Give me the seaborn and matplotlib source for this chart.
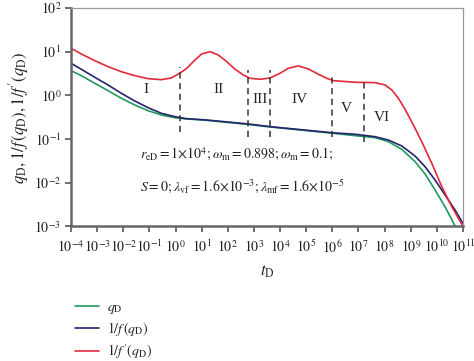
import matplotlib

matplotlib.use("Agg")

import matplotlib.pyplot as plt
import numpy as np
import pandas as pd
import seaborn as sns

# ==========================================================
# Data (log10 of t_D and of the value)
# ==========================================================

RED_LOG_T = [-4.0, -3.606, -3.093, -2.584, -2.075, -1.562, -1.053, -0.544,
             -0.162, 0.160, 0.413, 0.746, 1.002, 1.320, 1.637, 1.959, 2.276,
             2.594, 2.850, 3.233, 3.616, 3.999, 4.316, 4.699, 5.082, 5.464,
             5.786, 6.038, 6.869, 7.634, 8.017, 8.273, 8.526, 8.782, 9.100,
             9.421, 9.804, 10.187, 10.569, 11.0]
RED_LOG_Q = [1.078, 0.947, 0.794, 0.657, 0.542, 0.451, 0.382, 0.359,
             0.398, 0.506, 0.610, 0.810, 0.947, 1.0, 0.924, 0.771, 0.597,
             0.467, 0.391, 0.368, 0.398, 0.506, 0.620, 0.673, 0.604, 0.483,
             0.391, 0.336, 0.300, 0.291, 0.238, 0.124, -0.066, -0.318, -0.677,
             -1.059, -1.553, -2.088, -2.545, -3.0]

BLUE_LOG_T = [-4.0, -3.606, -3.093, -2.584, -2.075, -1.562, -1.053, -0.544,
              -0.031, 0.413, 1.128, 2.0, 2.785, 3.617, 5.977, 6.869, 7.634,
              8.143, 8.656, 9.165, 9.548, 9.930, 10.313, 10.696, 11.0]
BLUE_LOG_Q = [0.735, 0.597, 0.414, 0.238, 0.048, -0.128, -0.281, -0.410,
              -0.487, -0.533, -0.560, -0.610, -0.654, -0.716, -0.854, -0.890,
              -0.945, -1.021, -1.158, -1.387, -1.632, -1.936, -2.279, -2.622,
              -2.93]

GREEN_LOG_T = [-4.0, -3.606, -3.093, -2.584, -2.075, -1.562, -1.053, -0.544,
               -0.031, 0.413, 1.128, 2.785, 3.617, 5.977, 6.869, 7.634, 8.143,
               8.656, 9.165, 9.548, 9.930, 10.313, 10.696]
GREEN_LOG_Q = [0.565, 0.451, 0.277, 0.108, -0.066, -0.220, -0.350, -0.449,
               -0.510, -0.540, -0.568, -0.666, -0.723, -0.865, -0.922, -0.968,
               -1.059, -1.233, -1.517, -1.799, -2.165, -2.547, -2.989]

SERIES_NAMES = [r"$q_{\mathrm{D}}$",
                r"$1/f\,(q_{\mathrm{D}})$",
                r"$1/f\,'(q_{\mathrm{D}})$"]
SERIES_COLORS = ["#1f9a5c", "#25236e", "#e4283a"]

# flow-regime boundaries: log10 t_D, and log10 of dashed line ends
BOUNDARY_LOG_T = [0.171, 2.785, 3.617, 6.0, 7.21]
BOUNDARY_LOG_TOP = [0.657, 0.581, 0.581, 0.513, 0.352]
BOUNDARY_LOG_BOTTOM = [-0.831, -0.952, -0.952, -0.952, -1.066]

REGION_LABELS = ["I", "II", "III", "IV", "V", "VI"]
REGION_LOG_T = [-1.14, 1.65, 3.22, 4.74, 6.55, 7.9]
REGION_LOG_Q = [0.14, 0.14, -0.09, -0.09, -0.30, -0.50]

X_EXPONENTS = list(range(-4, 12))
Y_EXPONENTS = list(range(-3, 3))


def build_frame() -> pd.DataFrame:
    """
    Long-form table for seaborn.
    """

    parts = []
    for name, lt, lq in zip(
        SERIES_NAMES,
        [GREEN_LOG_T, BLUE_LOG_T, RED_LOG_T],
        [GREEN_LOG_Q, BLUE_LOG_Q, RED_LOG_Q],
    ):
        parts.append(pd.DataFrame({
            "t": 10 ** np.array(lt),
            "q": 10 ** np.array(lq),
            "series": name,
        }))
    return pd.concat(parts, ignore_index=True)


def main() -> None:
    sns.set_style("ticks")
    plt.rcParams["font.family"] = ["Liberation Serif", "DejaVu Serif"]
    plt.rcParams["mathtext.fontset"] = "stix"

    df = build_frame()

    fig = plt.figure(figsize=(4.74, 3.61), dpi=100)
    ax = fig.add_axes([0.1498, 0.3726, 0.8270, 0.6054])

    sns.lineplot(
        data=df,
        x="t",
        y="q",
        hue="series",
        palette=SERIES_COLORS,
        sort=False,
        linewidth=1.2,
        ax=ax,
        legend=False,
    )

    ax.set(xscale="log", yscale="log")
    ax.set_xlim(1e-4, 1e11)
    ax.set_ylim(1e-3, 1e2)

    for lt, top, bot in zip(BOUNDARY_LOG_T, BOUNDARY_LOG_TOP,
                            BOUNDARY_LOG_BOTTOM):
        ax.plot([10 ** lt, 10 ** lt], [10 ** bot, 10 ** top],
                ls=(0, (4, 3)), color="#333333", lw=1.1)

    for lab, lt, lq in zip(REGION_LABELS, REGION_LOG_T, REGION_LOG_Q):
        ax.text(10 ** lt, 10 ** lq, lab, ha="center", va="center",
                fontsize=11, color="#222222")

    ax.text(0.175, 0.33,
            r"$r_{\mathrm{eD}} = 1{\times}10^4;\omega_{\mathrm{m}} = 0.898;"
            r"\omega_{\mathrm{m}} = 0.1;$",
            transform=ax.transAxes, fontsize=10, color="#222222",
            va="center")
    ax.text(0.175, 0.185,
            r"$S = 0;\lambda_{\mathrm{vf}} = 1.6{\times}10^{-3};"
            r"\lambda_{\mathrm{mf}} = 1.6{\times}10^{-5}$",
            transform=ax.transAxes, fontsize=10, color="#222222",
            va="center")

    ax.set_xticks([10.0 ** e for e in X_EXPONENTS])
    ax.set_xticklabels([rf"$10^{{{e}}}$" for e in X_EXPONENTS])
    ax.set_yticks([10.0 ** e for e in Y_EXPONENTS])
    ax.set_yticklabels([rf"$10^{{{e}}}$" for e in Y_EXPONENTS])
    ax.minorticks_off()
    ax.tick_params(axis="both", labelsize=10, length=4, width=1.2,
                   color="#555555", labelcolor="#222222", pad=3)
    ax.tick_params(axis="x", pad=5)

    for side in ["left", "bottom"]:
        ax.spines[side].set_color("#666666")
        ax.spines[side].set_linewidth(1.8)
    for side in ["top", "right"]:
        ax.spines[side].set_color("#999999")
        ax.spines[side].set_linewidth(0.9)

    ax.set_xlabel(r"$t_{\mathrm{D}}$", fontsize=12, labelpad=6,
                  color="#222222")
    ax.set_ylabel(
        r"$q_{\mathrm{D}},1/f\,(q_{\mathrm{D}}),1/f\,'(q_{\mathrm{D}})$",
        fontsize=12, labelpad=2, color="#222222")

    handles = [plt.Line2D([], [], color=c, lw=1.2) for c in SERIES_COLORS]
    fig.legend(
        handles,
        SERIES_NAMES,
        loc="upper left",
        bbox_to_anchor=(0.131, 0.2),
        frameon=False,
        fontsize=10,
        handlelength=1.75,
        handletextpad=0.6,
        labelspacing=0.28,
        borderpad=0.4,
    )

    fig.savefig("out.png", dpi=100)
    plt.close(fig)


if __name__ == "__main__":
    main()
